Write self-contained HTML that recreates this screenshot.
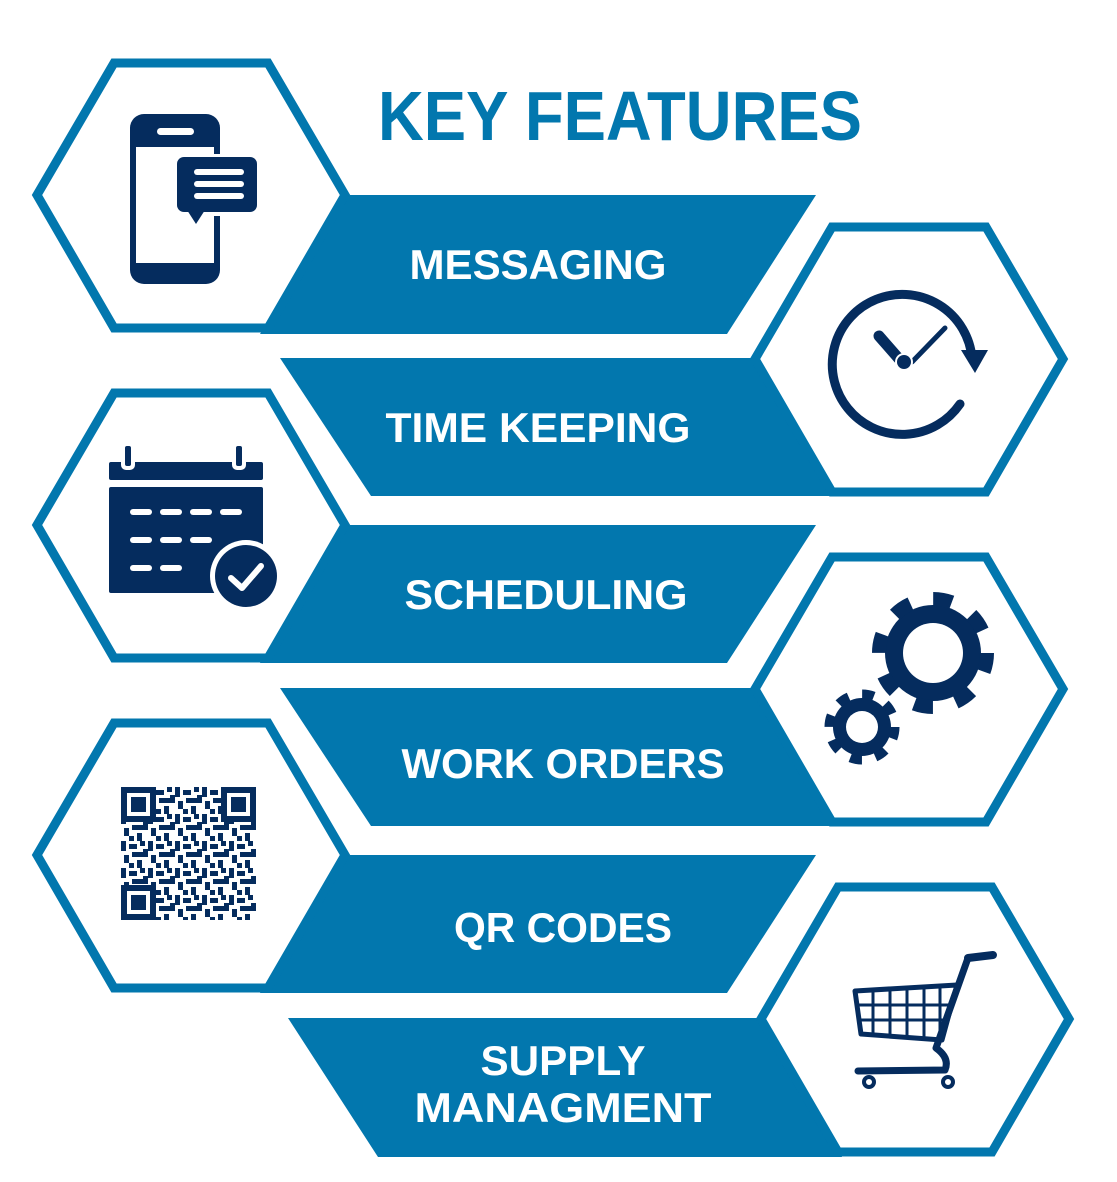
<!DOCTYPE html>
<html><head><meta charset="utf-8"><style>
html,body{margin:0;padding:0;background:#fff;}
svg{display:block;}
text{font-family:"Liberation Sans",sans-serif;font-weight:bold;}
</style></head><body>
<svg width="1117" height="1182" viewBox="0 0 1117 1182" xmlns="http://www.w3.org/2000/svg">
<defs>
<polygon id="hex" points="114,63 268,63 345,195 268,328 114,328 37,195" fill="#fff" stroke="#0277ae" stroke-width="9"/>
<pattern id="qr" x="121" y="787" width="27" height="27" patternUnits="userSpaceOnUse">
<rect width="27" height="27" fill="#fff"/>
<rect x="0" y="0" width="5" height="10" fill="#052c5e"/><rect x="8" y="3" width="8" height="5" fill="#052c5e"/>
<rect x="19" y="0" width="5" height="5" fill="#052c5e"/><rect x="11" y="11" width="11" height="5" fill="#052c5e"/>
<rect x="3" y="14" width="5" height="8" fill="#052c5e"/><rect x="16" y="19" width="5" height="8" fill="#052c5e"/>
<rect x="22" y="8" width="5" height="8" fill="#052c5e"/><rect x="8" y="22" width="5" height="5" fill="#052c5e"/>
</pattern>
</defs>
<g fill="#0277ae">
<polygon points="350,195 816,195 727,334 260,334"/>
<polygon points="280,358 758,358 837,496 371,496"/>
<polygon points="350,525 816,525 727,663 260,663"/>
<polygon points="280,688 758,688 837,826 371,826"/>
<polygon points="350,855 816,855 727,993 260,993"/>
<polygon points="288,1018 764,1018 842,1157 378,1157"/>
</g>
<use href="#hex"/>
<use href="#hex" transform="translate(0,330)"/>
<use href="#hex" transform="translate(0,660)"/>
<use href="#hex" transform="translate(718,164)"/>
<use href="#hex" transform="translate(718,494)"/>
<use href="#hex" transform="translate(724,824)"/>
<text x="378" y="140" font-size="70" fill="#0277ae" textLength="484" lengthAdjust="spacingAndGlyphs">KEY FEATURES</text>
<g fill="#fff" font-size="42" text-anchor="middle">
<text x="538" y="279" textLength="257" lengthAdjust="spacingAndGlyphs">MESSAGING</text>
<text x="538" y="442" textLength="305" lengthAdjust="spacingAndGlyphs">TIME KEEPING</text>
<text x="546" y="609" textLength="283" lengthAdjust="spacingAndGlyphs">SCHEDULING</text>
<text x="563" y="778" textLength="323" lengthAdjust="spacingAndGlyphs">WORK ORDERS</text>
<text x="563" y="942" textLength="218" lengthAdjust="spacingAndGlyphs">QR CODES</text>
<text x="563" y="1075" textLength="165" lengthAdjust="spacingAndGlyphs">SUPPLY</text>
<text x="563" y="1122" textLength="297" lengthAdjust="spacingAndGlyphs">MANAGMENT</text>
</g>
<g fill="#052c5e" stroke="none">
<!-- phone -->
<rect x="130" y="114" width="90" height="170" rx="14"/>
<rect x="136" y="147" width="78" height="116" fill="#fff"/>
<rect x="157" y="128" width="37" height="7" rx="3.5" fill="#fff"/>
<rect x="174" y="154" width="84" height="62" fill="#fff"/>
<rect x="177" y="157" width="80" height="55" rx="7"/>
<polygon points="187,210 205,210 196,224"/>
<rect x="194" y="169" width="50" height="6" rx="3" fill="#fff"/>
<rect x="194" y="181" width="50" height="6" rx="3" fill="#fff"/>
<rect x="194" y="193" width="50" height="6" rx="3" fill="#fff"/>
<!-- clock -->
<path d="M960,404 A70,70 0 1 1 972,358" fill="none" stroke="#052c5e" stroke-width="9" stroke-linecap="round"/>
<polygon points="961,350 988,350 975,373"/>
<path d="M879,336 L900,360" stroke="#052c5e" stroke-width="11" stroke-linecap="round"/>
<path d="M912,362 L945,328" stroke="#052c5e" stroke-width="5" stroke-linecap="round"/>
<circle cx="904" cy="362" r="9" fill="#fff"/>
<circle cx="904" cy="362" r="7"/>
<!-- calendar -->
<rect x="109" y="462" width="154" height="18" rx="2"/>
<rect x="123" y="446" width="10" height="22" rx="3" fill="#fff" stroke="#fff" stroke-width="4"/>
<rect x="125" y="446" width="6" height="20" rx="2"/>
<rect x="234" y="446" width="10" height="22" rx="3" fill="#fff" stroke="#fff" stroke-width="4"/>
<rect x="236" y="446" width="6" height="20" rx="2"/>
<rect x="109" y="487" width="154" height="106" rx="2"/>
<g fill="#fff">
<rect x="130" y="509" width="22" height="6" rx="3"/><rect x="160" y="509" width="22" height="6" rx="3"/><rect x="190" y="509" width="22" height="6" rx="3"/><rect x="220" y="509" width="22" height="6" rx="3"/>
<rect x="130" y="537" width="22" height="6" rx="3"/><rect x="160" y="537" width="22" height="6" rx="3"/><rect x="190" y="537" width="22" height="6" rx="3"/>
<rect x="130" y="565" width="22" height="6" rx="3"/><rect x="160" y="565" width="22" height="6" rx="3"/>
</g>
<circle cx="246" cy="576" r="36" fill="#fff"/>
<circle cx="246" cy="576" r="31"/>
<path d="M231,578 L242,588 L261,566" fill="none" stroke="#fff" stroke-width="6" stroke-linecap="round" stroke-linejoin="round"/>
<!-- gears -->
<circle cx="933" cy="653" r="48"/>
<circle cx="933" cy="653" r="54" fill="none" stroke="#052c5e" stroke-width="14" stroke-dasharray="19 23.4"/>
<circle cx="933" cy="653" r="30" fill="#fff"/>
<circle cx="862" cy="727" r="29"/>
<circle cx="862" cy="727" r="33" fill="none" stroke="#052c5e" stroke-width="9" stroke-dasharray="12 13.9"/>
<circle cx="862" cy="727" r="16" fill="#fff"/>
<!-- QR -->
<rect x="121" y="787" width="135" height="133" fill="url(#qr)"/>
<g>
<rect x="121" y="787" width="35" height="35"/><rect x="127" y="793" width="23" height="23" fill="#fff"/><rect x="131" y="797" width="15" height="15"/>
<rect x="221" y="787" width="35" height="35"/><rect x="227" y="793" width="23" height="23" fill="#fff"/><rect x="231" y="797" width="15" height="15"/>
<rect x="121" y="885" width="35" height="35"/><rect x="127" y="891" width="23" height="23" fill="#fff"/><rect x="131" y="895" width="15" height="15"/>
</g>
<!-- cart -->
<g fill="none" stroke="#052c5e" stroke-linecap="round" stroke-linejoin="round">
<path d="M968,958 L993,955" stroke-width="8"/>
<path d="M968,958 L936,1048 Q950,1058 945,1070 L858,1071" stroke-width="7"/>
<path d="M855,991 L957,985 L942,1040 L861,1034 Z" stroke-width="5"/>
<path d="M873,990 V1035 M890,989 V1036 M907,988 V1037 M924,987 V1038 M940,986 V1039 M858,1005 H953 M859,1020 H948" stroke-width="3"/>
<circle cx="869" cy="1082" r="5" stroke-width="4"/>
<circle cx="948" cy="1082" r="5" stroke-width="4"/>
</g>
</g>
</svg>
</body></html>
